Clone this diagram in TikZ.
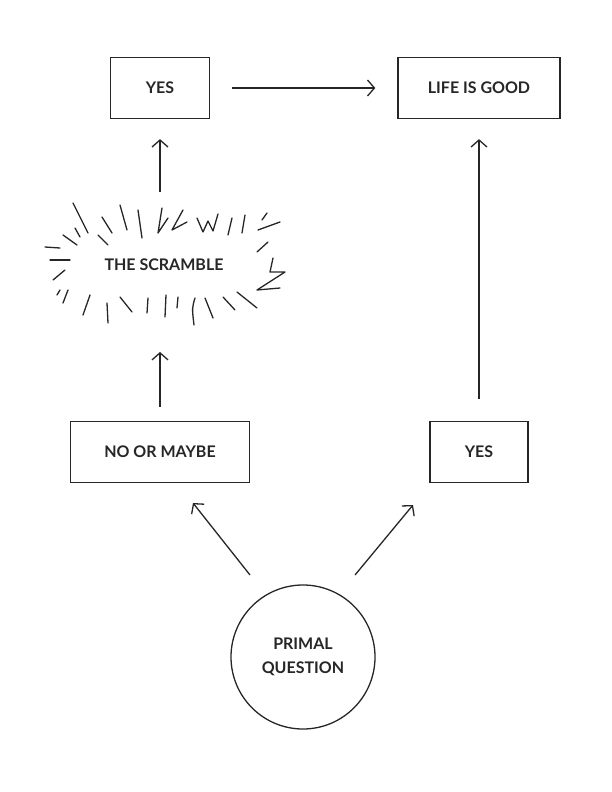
\documentclass[tikz,border=0pt]{standalone}
\usepackage{fontspec}
\setmainfont{Lato}
\usetikzlibrary{arrows.meta}
\begin{document}
\begin{tikzpicture}[x=1pt,y=-1pt,
  box/.style={draw=black!85,line width=1.3pt,minimum height=61pt,font=\bfseries\fontsize{16}{19}\selectfont,text=black!85},
  arr/.style={draw=black!85,line width=1.3pt,-{Straight Barb[length=7pt,width=16pt,line width=1.3pt]}},
  st/.style={draw=black!85,line width=1.3pt,line cap=round,line join=round}]
\useasboundingbox (0,0) rectangle (612,792);
\node[box,minimum width=99pt] (yes1) at (160,88) {YES};
\node[box,minimum width=162pt] (life) at (479,88) {LIFE IS GOOD};
\node[box,minimum width=179pt] (no) at (160,452) {NO OR MAYBE};
\node[box,minimum width=98pt] (yes2) at (479,452) {YES};
\node[box,circle,minimum size=144pt,align=center,font=\bfseries\fontsize{16}{24}\selectfont] (q) at (303,657) {PRIMAL\\QUESTION};
\node[font=\bfseries\fontsize{16}{19}\selectfont,text=black!85,minimum width=150pt,minimum height=100pt] (scr) at (164,265) {THE SCRAMBLE};
\coordinate (qa) at (250,575);
\coordinate (qb) at (355,575);
\draw[arr] ([xshift=22pt]yes1.east) -- ([xshift=-22pt]life.west);
\draw[arr] (160,192) -- ([yshift=-20pt]yes1.south);
\draw[arr] ([yshift=14pt]no.north) -- (160,352);
\draw[arr] ([yshift=22pt]yes2.north) -- ([yshift=-20pt]life.south);
\draw[arr] (qa) -- (193,503);
\draw[arr] (qb) -- (413,505);
% scramble strokes
\draw[st] (73,203)--(88,233);
\draw[st] (63,235)--(77,245);
\draw[st] (75,228)--(80,237);
\draw[st] (98,235)--(108,245);
\draw[st] (102,217)--(112,233);
\draw[st] (120,205)--(127,230);
\draw[st] (138,210)--(142,238);
\draw[st] (162,208)--(158,233)--(168,218);
\draw[st] (183,210)--(172,230)--(187,222);
\draw[st] (197,218)--(203,232)--(208,221)--(213,231)--(218,214);
\draw[st] (232,218)--(228,235);
\draw[st] (245,215)--(242,233);
\draw[st] (267,213)--(262,220);
\draw[st] (258,230)--(280,222);
\draw[st] (268,242)--(257,252);
\draw[st] (45,247)--(60,248);
\draw[st] (50,260)--(70,260);
\draw[st] (65,270)--(53,280);
\draw[st] (60,290)--(57,295);
\draw[st] (68,290)--(63,303);
\draw[st] (90,295)--(83,315);
\draw[st] (107,303)--(108,323);
\draw[st] (120,297)--(132,312);
\draw[st] (148,298)--(147,313);
\draw[st] (166,295)--(165,317);
\draw[st] (178,297)--(177,308);
\draw[st] (195,298) .. controls (192,308) .. (194,325);
\draw[st] (205,298)--(213,318);
\draw[st] (223,297)--(235,310);
\draw[st] (237,292)--(257,308);
\draw[st] (273,258)--(270,272)--(285,272)--(257,290)--(280,288);
\end{tikzpicture}
\end{document}
